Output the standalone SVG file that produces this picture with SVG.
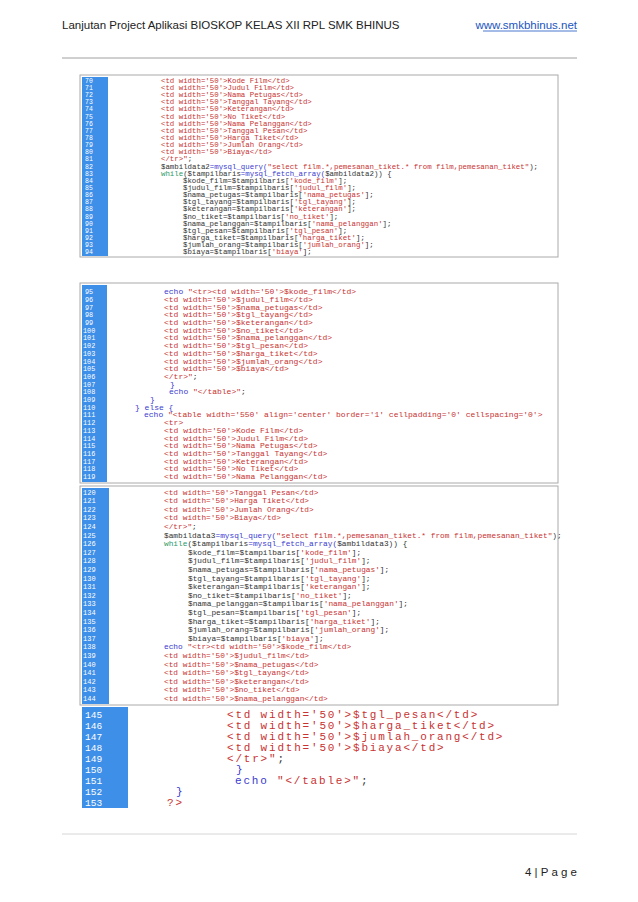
<svg xmlns="http://www.w3.org/2000/svg" width="638" height="902" viewBox="0 0 638 902">
<style>
.h{font-family:"Liberation Sans",Arial,sans-serif;font-size:11.5px;fill:#222}
.c{font-family:"Liberation Mono","Courier New",monospace;fill:#c83232}
.n{font-family:"Liberation Mono",monospace;fill:#fff}
.k{fill:#3a3ad0}.v{fill:#333}.g{fill:#2a9a6a}
.gut{fill:#3d8fe8}
.box{fill:#fff;stroke:#aaa;stroke-width:1}
</style>
<rect width="638" height="902" fill="#fff"/>
<text class="h" x="62" y="29">Lanjutan Project Aplikasi BIOSKOP KELAS XII RPL SMK BHINUS</text>
<text class="h" x="577" y="29" text-anchor="end" style="fill:#1a55c0">www.smkbhinus.net</text>
<line x1="483" y1="31" x2="577" y2="31" stroke="#1a55c0" stroke-width="0.8"/>
<line x1="62" y1="58" x2="577" y2="58" stroke="#888" stroke-width="0.8"/>

<g id="block1">
<rect class="box" x="80" y="75" width="478" height="182"/>
<rect class="gut" x="82" y="77" width="26" height="179"/>
<g class="n" font-size="6.5">
<text x="85" y="83">70</text><text x="85" y="90">71</text><text x="85" y="97">72</text><text x="85" y="104">73</text><text x="85" y="111">74</text><text x="85" y="119">75</text><text x="85" y="126">76</text><text x="85" y="133">77</text><text x="85" y="140">78</text><text x="85" y="147">79</text><text x="85" y="154">80</text><text x="85" y="161">81</text><text x="85" y="169">82</text><text x="85" y="176">83</text><text x="85" y="183">84</text><text x="85" y="190">85</text><text x="85" y="197">86</text><text x="85" y="204">87</text><text x="85" y="211">88</text><text x="85" y="219">89</text><text x="85" y="226">90</text><text x="85" y="233">91</text><text x="85" y="240">92</text><text x="85" y="247">93</text><text x="85" y="254">94</text>
</g>
<g class="c" font-size="7.4">
<text x="161" y="83">&lt;td width='50'&gt;Kode Film&lt;/td&gt;</text>
<text x="161" y="90">&lt;td width='50'&gt;Judul Film&lt;/td&gt;</text>
<text x="161" y="97">&lt;td width='50'&gt;Nama Petugas&lt;/td&gt;</text>
<text x="161" y="104">&lt;td width='50'&gt;Tanggal Tayang&lt;/td&gt;</text>
<text x="161" y="111">&lt;td width='50'&gt;Keterangan&lt;/td&gt;</text>
<text x="161" y="119">&lt;td width='50'&gt;No Tiket&lt;/td&gt;</text>
<text x="161" y="126">&lt;td width='50'&gt;Nama Pelanggan&lt;/td&gt;</text>
<text x="161" y="133">&lt;td width='50'&gt;Tanggal Pesan&lt;/td&gt;</text>
<text x="161" y="140">&lt;td width='50'&gt;Harga Tiket&lt;/td&gt;</text>
<text x="161" y="147">&lt;td width='50'&gt;Jumlah Orang&lt;/td&gt;</text>
<text x="161" y="154">&lt;td width='50'&gt;Biaya&lt;/td&gt;</text>
<text x="161" y="161">&lt;/tr&gt;"<tspan class="v">;</tspan></text>
<text x="161" y="169"><tspan class="v">$ambildata2</tspan><tspan class="k">=mysql_query(</tspan>"select film.*,pemesanan_tiket.* from film,pemesanan_tiket"<tspan class="v">);</tspan></text>
<text x="161" y="176"><tspan class="g">while</tspan><tspan class="v">($tampilbaris</tspan><tspan class="k">=mysql_fetch_array(</tspan><tspan class="v">$ambildata2)) {</tspan></text>
<text x="183" y="183"><tspan class="v">$kode_film=$tampilbaris[</tspan>'kode_film'<tspan class="v">];</tspan></text>
<text x="183" y="190"><tspan class="v">$judul_film=$tampilbaris[</tspan>'judul_film'<tspan class="v">];</tspan></text>
<text x="183" y="197"><tspan class="v">$nama_petugas=$tampilbaris[</tspan>'nama_petugas'<tspan class="v">];</tspan></text>
<text x="183" y="204"><tspan class="v">$tgl_tayang=$tampilbaris[</tspan>'tgl_tayang'<tspan class="v">];</tspan></text>
<text x="183" y="211"><tspan class="v">$keterangan=$tampilbaris[</tspan>'keterangan'<tspan class="v">];</tspan></text>
<text x="183" y="219"><tspan class="v">$no_tiket=$tampilbaris[</tspan>'no_tiket'<tspan class="v">];</tspan></text>
<text x="183" y="226"><tspan class="v">$nama_pelanggan=$tampilbaris[</tspan>'nama_pelanggan'<tspan class="v">];</tspan></text>
<text x="183" y="233"><tspan class="v">$tgl_pesan=$tampilbaris[</tspan>'tgl_pesan'<tspan class="v">];</tspan></text>
<text x="183" y="240"><tspan class="v">$harga_tiket=$tampilbaris[</tspan>'harga_tiket'<tspan class="v">];</tspan></text>
<text x="183" y="247"><tspan class="v">$jumlah_orang=$tampilbaris[</tspan>'jumlah_orang'<tspan class="v">];</tspan></text>
<text x="183" y="254"><tspan class="v">$biaya=$tampilbaris[</tspan>'biaya'<tspan class="v">];</tspan></text>
</g>
</g>

<g id="block2">
<rect class="box" x="80" y="283" width="478" height="200"/>
<rect class="gut" x="82" y="285" width="25" height="197"/>
<g class="n" font-size="6.8">
<text x="85" y="294">95</text><text x="85" y="302">96</text><text x="85" y="310">97</text><text x="85" y="317">98</text><text x="85" y="325">99</text><text x="83" y="333">100</text><text x="83" y="340">101</text><text x="83" y="348">102</text><text x="83" y="356">103</text><text x="83" y="364">104</text><text x="83" y="371">105</text><text x="83" y="379">106</text><text x="83" y="387">107</text><text x="83" y="394">108</text><text x="83" y="402">109</text><text x="83" y="410">110</text><text x="83" y="417">111</text><text x="83" y="425">112</text><text x="83" y="433">113</text><text x="83" y="441">114</text><text x="83" y="448">115</text><text x="83" y="456">116</text><text x="83" y="464">117</text><text x="83" y="471">118</text><text x="83" y="479">119</text>
</g>
<g class="c" font-size="8">
<text x="164" y="294"><tspan class="k">echo</tspan> "&lt;tr&gt;&lt;td width='50'&gt;$kode_film&lt;/td&gt;</text>
<text x="164" y="302">&lt;td width='50'&gt;$judul_film&lt;/td&gt;</text>
<text x="164" y="310">&lt;td width='50'&gt;$nama_petugas&lt;/td&gt;</text>
<text x="164" y="317">&lt;td width='50'&gt;$tgl_tayang&lt;/td&gt;</text>
<text x="164" y="325">&lt;td width='50'&gt;$keterangan&lt;/td&gt;</text>
<text x="164" y="333">&lt;td width='50'&gt;$no_tiket&lt;/td&gt;</text>
<text x="164" y="340">&lt;td width='50'&gt;$nama_pelanggan&lt;/td&gt;</text>
<text x="164" y="348">&lt;td width='50'&gt;$tgl_pesan&lt;/td&gt;</text>
<text x="164" y="356">&lt;td width='50'&gt;$harga_tiket&lt;/td&gt;</text>
<text x="164" y="364">&lt;td width='50'&gt;$jumlah_orang&lt;/td&gt;</text>
<text x="164" y="371">&lt;td width='50'&gt;$biaya&lt;/td&gt;</text>
<text x="164" y="379">&lt;/tr&gt;"<tspan class="v">;</tspan></text>
<text x="170" y="387" class="k">}</text>
<text x="169" y="394"><tspan class="k">echo</tspan> "&lt;/table&gt;"<tspan class="v">;</tspan></text>
<text x="150" y="402" class="k">}</text>
<text x="135" y="410" class="k">} else {</text>
<text x="144" y="417"><tspan class="k">echo</tspan> "&lt;table width='550' align='center' border='1' cellpadding='0' cellspacing='0'&gt;</text>
<text x="164" y="425">&lt;tr&gt;</text>
<text x="164" y="433">&lt;td width='50'&gt;Kode Film&lt;/td&gt;</text>
<text x="164" y="441">&lt;td width='50'&gt;Judul Film&lt;/td&gt;</text>
<text x="164" y="448">&lt;td width='50'&gt;Nama Petugas&lt;/td&gt;</text>
<text x="164" y="456">&lt;td width='50'&gt;Tanggal Tayang&lt;/td&gt;</text>
<text x="164" y="464">&lt;td width='50'&gt;Keterangan&lt;/td&gt;</text>
<text x="164" y="471">&lt;td width='50'&gt;No Tiket&lt;/td&gt;</text>
<text x="164" y="479">&lt;td width='50'&gt;Nama Pelanggan&lt;/td&gt;</text>
</g>
</g>

<g id="block3">
<rect class="box" x="80" y="486" width="478" height="219"/>
<rect class="gut" x="82" y="488" width="27" height="216"/>
<g class="n" font-size="7">
<text x="83" y="495">120</text><text x="83" y="503">121</text><text x="83" y="512">122</text><text x="83" y="520">123</text><text x="83" y="529">124</text><text x="83" y="538">125</text><text x="83" y="546">126</text><text x="83" y="555">127</text><text x="83" y="563">128</text><text x="83" y="572">129</text><text x="83" y="581">130</text><text x="83" y="589">131</text><text x="83" y="598">132</text><text x="83" y="606">133</text><text x="83" y="615">134</text><text x="83" y="624">135</text><text x="83" y="632">136</text><text x="83" y="641">137</text><text x="83" y="649">138</text><text x="83" y="658">139</text><text x="83" y="667">140</text><text x="83" y="675">141</text><text x="83" y="684">142</text><text x="83" y="692">143</text><text x="83" y="701">144</text>
</g>
<g class="c" font-size="7.8">
<text x="164" y="495">&lt;td width='50'&gt;Tanggal Pesan&lt;/td&gt;</text>
<text x="164" y="503">&lt;td width='50'&gt;Harga Tiket&lt;/td&gt;</text>
<text x="164" y="512">&lt;td width='50'&gt;Jumlah Orang&lt;/td&gt;</text>
<text x="164" y="520">&lt;td width='50'&gt;Biaya&lt;/td&gt;</text>
<text x="164" y="529">&lt;/tr&gt;"<tspan class="v">;</tspan></text>
<text x="164" y="538"><tspan class="v">$ambildata3</tspan><tspan class="k">=mysql_query(</tspan>"select film.*,pemesanan_tiket.* from film,pemesanan_tiket"<tspan class="v">);</tspan></text>
<text x="164" y="546"><tspan class="g">while</tspan><tspan class="v">($tampilbaris</tspan><tspan class="k">=mysql_fetch_array(</tspan><tspan class="v">$ambildata3)) {</tspan></text>
<text x="188" y="555"><tspan class="v">$kode_film=$tampilbaris[</tspan>'kode_film'<tspan class="v">];</tspan></text>
<text x="188" y="563"><tspan class="v">$judul_film=$tampilbaris[</tspan>'judul_film'<tspan class="v">];</tspan></text>
<text x="188" y="572"><tspan class="v">$nama_petugas=$tampilbaris[</tspan>'nama_petugas'<tspan class="v">];</tspan></text>
<text x="188" y="581"><tspan class="v">$tgl_tayang=$tampilbaris[</tspan>'tgl_tayang'<tspan class="v">];</tspan></text>
<text x="188" y="589"><tspan class="v">$keterangan=$tampilbaris[</tspan>'keterangan'<tspan class="v">];</tspan></text>
<text x="188" y="598"><tspan class="v">$no_tiket=$tampilbaris[</tspan>'no_tiket'<tspan class="v">];</tspan></text>
<text x="188" y="606"><tspan class="v">$nama_pelanggan=$tampilbaris[</tspan>'nama_pelanggan'<tspan class="v">];</tspan></text>
<text x="188" y="615"><tspan class="v">$tgl_pesan=$tampilbaris[</tspan>'tgl_pesan'<tspan class="v">];</tspan></text>
<text x="188" y="624"><tspan class="v">$harga_tiket=$tampilbaris[</tspan>'harga_tiket'<tspan class="v">];</tspan></text>
<text x="188" y="632"><tspan class="v">$jumlah_orang=$tampilbaris[</tspan>'jumlah_orang'<tspan class="v">];</tspan></text>
<text x="188" y="641"><tspan class="v">$biaya=$tampilbaris[</tspan>'biaya'<tspan class="v">];</tspan></text>
<text x="164" y="649"><tspan class="k">echo</tspan> "&lt;tr&gt;&lt;td width='50'&gt;$kode_film&lt;/td&gt;</text>
<text x="164" y="658">&lt;td width='50'&gt;$judul_film&lt;/td&gt;</text>
<text x="164" y="667">&lt;td width='50'&gt;$nama_petugas&lt;/td&gt;</text>
<text x="164" y="675">&lt;td width='50'&gt;$tgl_tayang&lt;/td&gt;</text>
<text x="164" y="684">&lt;td width='50'&gt;$keterangan&lt;/td&gt;</text>
<text x="164" y="692">&lt;td width='50'&gt;$no_tiket&lt;/td&gt;</text>
<text x="164" y="701">&lt;td width='50'&gt;$nama_pelanggan&lt;/td&gt;</text>
</g>
</g>

<g id="block4">
<rect class="gut" x="82" y="707" width="46" height="101"/>
<g class="n" font-size="9.5">
<text x="85" y="718">145</text><text x="85" y="729">146</text><text x="85" y="740">147</text><text x="85" y="751">148</text><text x="85" y="762">149</text><text x="85" y="773">150</text><text x="85" y="784">151</text><text x="85" y="795">152</text><text x="85" y="806">153</text>
</g>
<g class="c" font-size="11" letter-spacing="1.8">
<text x="227" y="718">&lt;td width='50'&gt;$tgl_pesan&lt;/td&gt;</text>
<text x="227" y="729">&lt;td width='50'&gt;$harga_tiket&lt;/td&gt;</text>
<text x="227" y="740">&lt;td width='50'&gt;$jumlah_orang&lt;/td&gt;</text>
<text x="227" y="751">&lt;td width='50'&gt;$biaya&lt;/td&gt;</text>
<text x="227" y="762">&lt;/tr&gt;"<tspan class="v">;</tspan></text>
<text x="236" y="773" class="k">}</text>
<text x="235" y="784"><tspan class="k">echo</tspan> "&lt;/table&gt;"<tspan class="v">;</tspan></text>
<text x="176" y="795" class="k">}</text>
<text x="167" y="806">?&gt;</text>
</g>
</g>

<line x1="62" y1="834" x2="577" y2="834" stroke="#ccc" stroke-width="0.8"/>
<text class="h" x="577" y="876" text-anchor="end">4 | P a g e</text>
</svg>
